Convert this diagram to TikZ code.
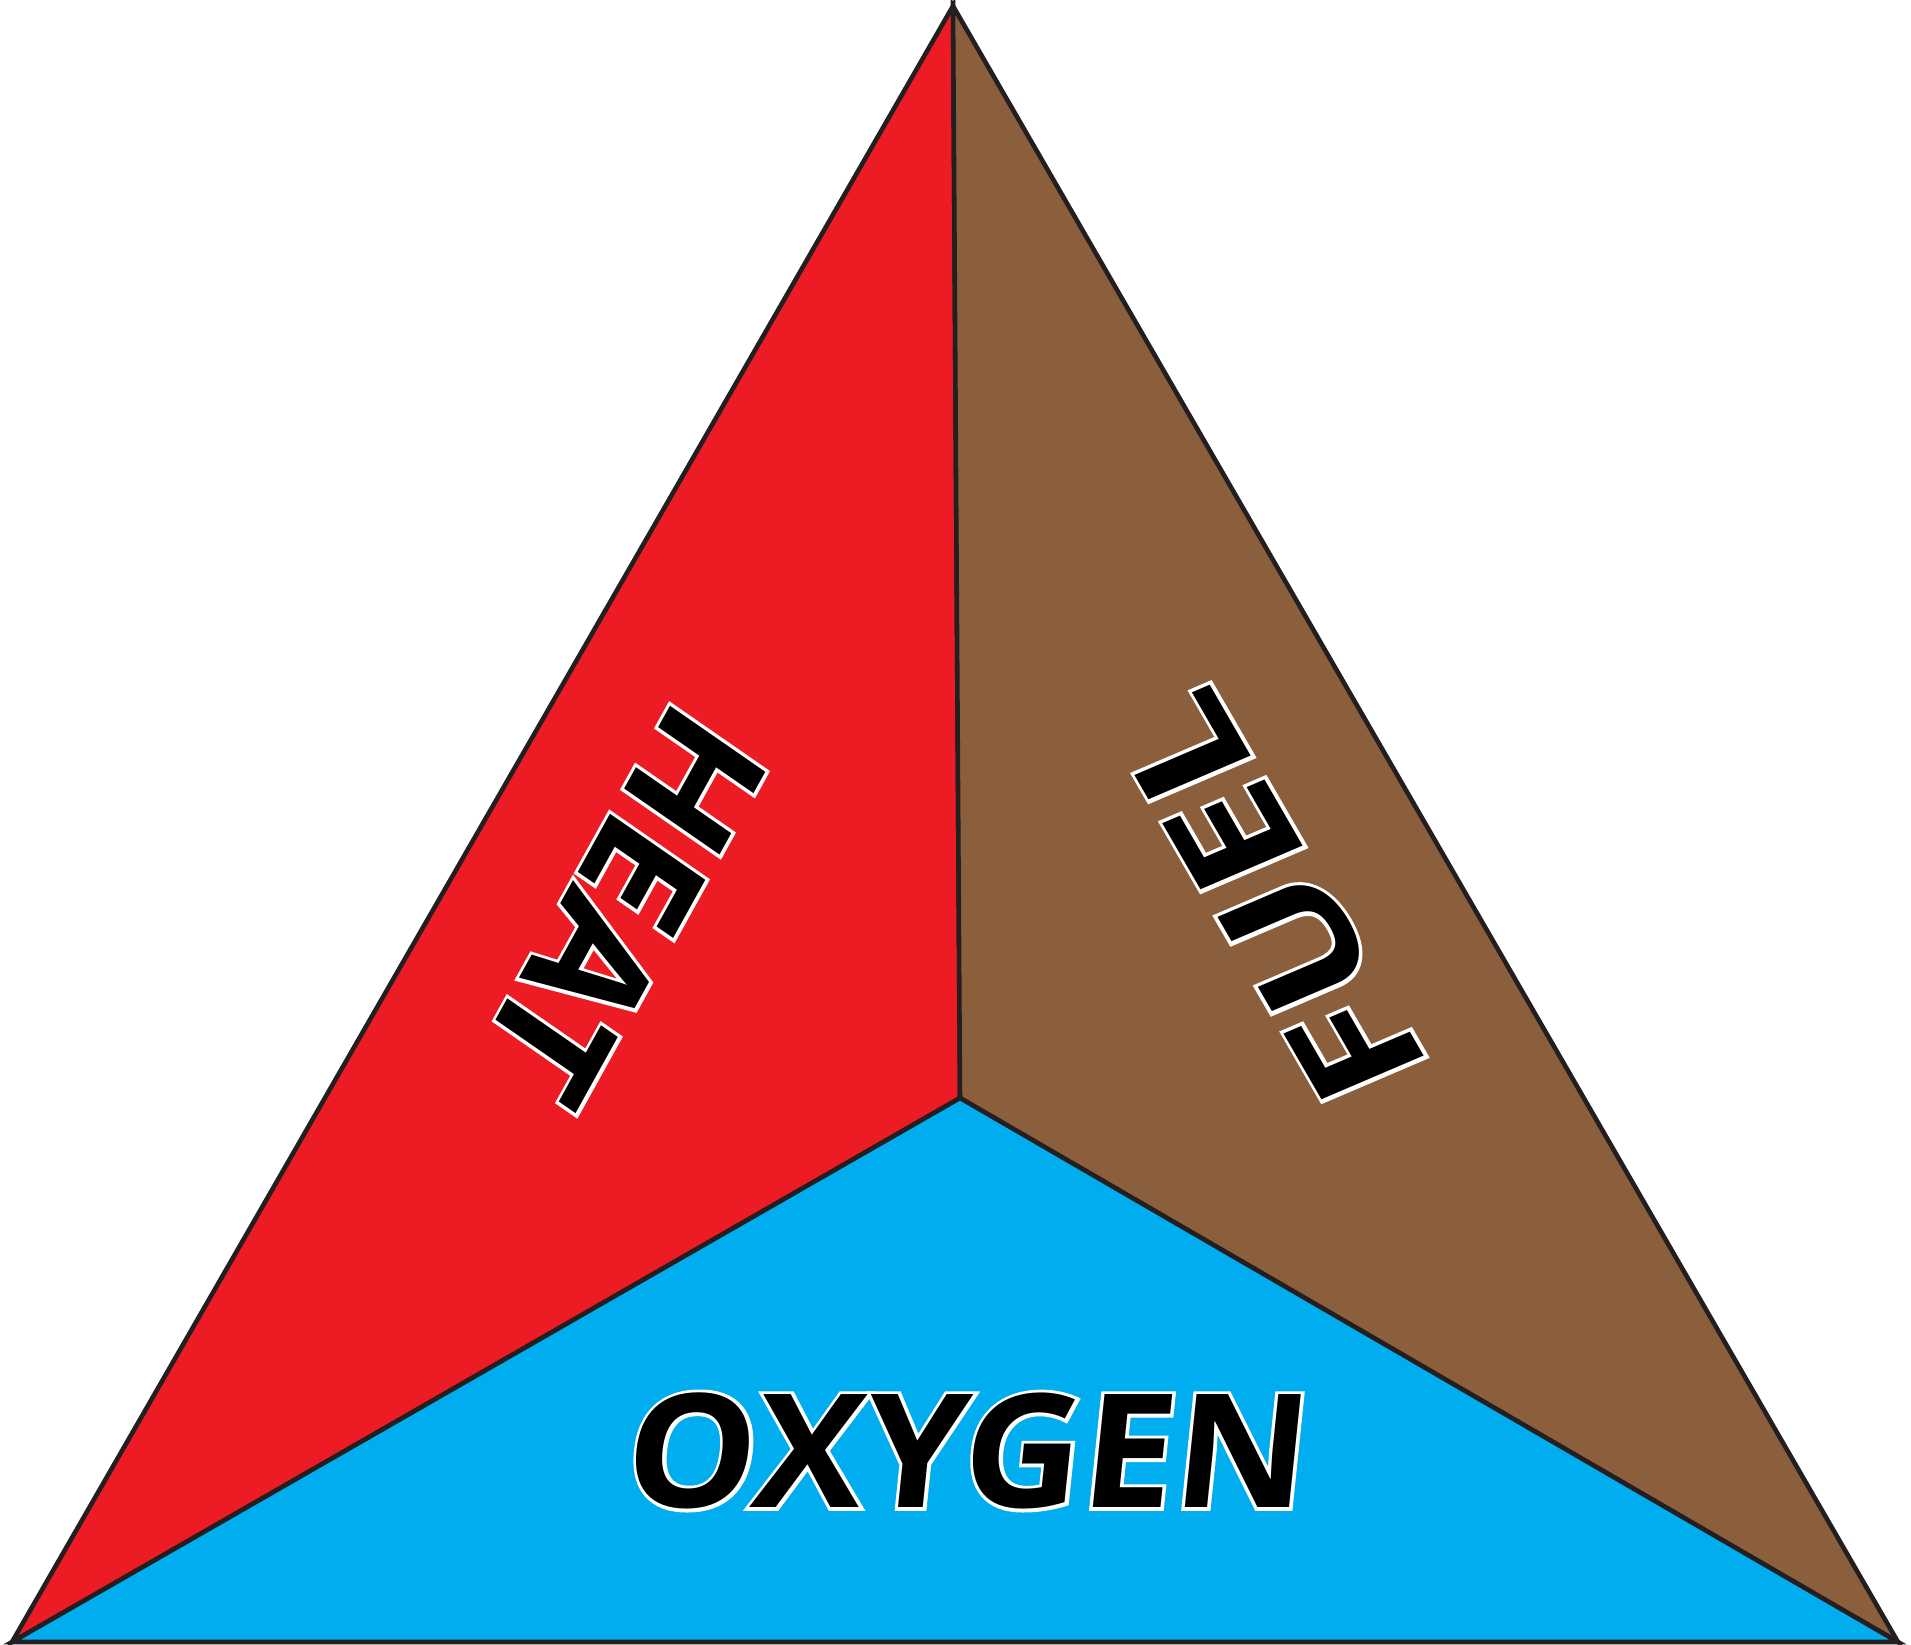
\documentclass[tikz,border=0pt]{standalone}
\usepackage{graphicx}
\usepackage{fontspec}
\newfontfamily\lblfont{Open Sans}[FakeSlant=0.1]
\definecolor{heatred}{HTML}{ED1C24}
\definecolor{fuelbrown}{HTML}{8B5E3C}
\definecolor{oxyblue}{HTML}{00AEEF}
\definecolor{edgecol}{HTML}{231F20}
\newcommand\outlined[1]{\leavevmode\rlap{\special{pdf:literal direct 1 1 1 RG 1.9 w 0 j 4 M 1 Tr}#1\special{pdf:literal direct 0 Tr}}#1}
\begin{document}
\begin{tikzpicture}[x=0.01cm,y=-0.01cm,
  region/.style={draw=edgecol, line width=1.3pt, line join=miter},
  lbl/.style={font=\lblfont\bfseries, text=black, inner sep=0pt}]
\useasboundingbox (0,0) rectangle (1911,1645);
\coordinate (A) at (953,6);
\coordinate (L) at (12,1642);
\coordinate (R) at (1898,1642);
\coordinate (C) at (960,1098);
\draw[region, fill=heatred] (A) -- (C) -- (L) -- cycle;
\draw[region, fill=fuelbrown] (A) -- (R) -- (C) -- cycle;
\draw[region, fill=oxyblue] (L) -- (C) -- (R) -- cycle;
\node[lbl, rotate=241] (heat) at (629,900) {\fontsize{46}{46}\selectfont\outlined{HEAT}};
\node[lbl, rotate=120] (fuel) at (1273,902) {\fontsize{44}{44}\selectfont\scalebox{1.2}[1]{\outlined{FUEL}}};
\node[lbl] (oxy) at (963,1451) {\fontsize{45}{45}\selectfont\scalebox{1.04}[1]{\outlined{OXYGEN}}};
\end{tikzpicture}
\end{document}
